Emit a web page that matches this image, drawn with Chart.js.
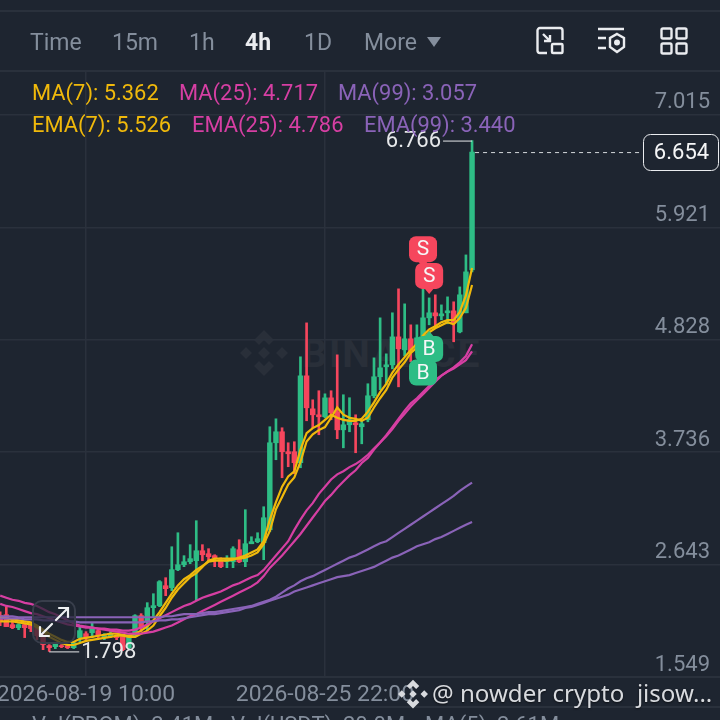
<!DOCTYPE html>
<html>
<head>
<meta charset="utf-8">
<script src="https://cdn.jsdelivr.net/npm/chart.js@4/dist/chart.umd.min.js"></script>
<style>
  html, body { margin: 0; padding: 0; background: #1e2530; width: 720px; height: 720px; overflow: hidden; }
  #stage { position: relative; width: 720px; height: 720px; font-family: Roboto, sans-serif; overflow: hidden; }
  #chart { position: absolute; left: 0; top: 0; z-index: 2; }
  .rule { position: absolute; left: 0; width: 720px; height: 2px; background: #2a313c; z-index: 1; }
  .tab { position: absolute; top: 29px; font-size: 23px; line-height: 28px; color: #848e9c; z-index: 3; }
  .tab.on { color: #eaecef; font-weight: 700; }
  .leg { position: absolute; font-size: 21.9px; line-height: 26px; white-space: nowrap; z-index: 3; }
  .yel { color: #f0b90b; } .pink { color: #d63fa3; } .pur { color: #8a63b8; }
  #mark { position: absolute; left: 302px; top: 331px; font: 700 39px Roboto, sans-serif; letter-spacing: 2px; color: #292f39; z-index: 1; }
  #markLogo { position: absolute; left: 238px; top: 329px; z-index: 1; }
  #expand { position: absolute; left: 32px; top: 600px; width: 44px; height: 44px; box-sizing: border-box; border: 2px solid #383e4b; border-radius: 10px; background: rgba(30,37,48,0.72); z-index: 4; }
  #credit { position: absolute; left: 432px; top: 677px; font: 24.1px "Noto Sans", sans-serif; line-height: 32px; color: #d8dade; white-space: pre; z-index: 5; text-shadow: 0 1px 2px rgba(0,0,0,.6); }
  #creditLogo { position: absolute; left: 398px; top: 679px; z-index: 5; }
  .vol { position: absolute; top: 712px; font-size: 22px; line-height: 26px; color: #848e9c; white-space: pre; z-index: 3; }
  .icon { position: absolute; top: 26px; z-index: 3; }
</style>
</head>
<body>
<div id="stage">
  <div class="rule" style="top:10px"></div>
  <div class="rule" style="top:70px"></div>
  <div class="rule" style="top:706px"></div>

  <div class="tab" style="left:30px">Time</div>
  <div class="tab" style="left:112px">15m</div>
  <div class="tab" style="left:189px">1h</div>
  <div class="tab on" style="left:245px">4h</div>
  <div class="tab" style="left:304px">1D</div>
  <div class="tab" style="left:364px">More</div>
  <svg class="icon" style="left:426px;top:36px" width="16" height="12"><path d="M1 1 H15 L8 11 Z" fill="#848e9c"/></svg>

  <svg class="icon" style="left:535px" width="30" height="30" fill="none" stroke="#eaecef" stroke-width="2.4">
    <path d="M12 27 H5 a2.5 2.5 0 0 1 -2.5 -2.5 V4.5 A2.5 2.5 0 0 1 5 2 H25 a2.5 2.5 0 0 1 2.5 2.5 V14"/>
    <rect x="17" y="18" width="10.5" height="9" rx="1"/>
    <path d="M8 8 L15 15 M15 9 V15 H9"/>
  </svg>
  <svg class="icon" style="left:596px" width="32" height="30" fill="none" stroke="#eaecef" stroke-width="2.4">
    <path d="M2 3 H28 M2 12 H10 M2 22 H10"/>
    <path d="M21 8 L28 12 V21 L21 26 L14 21 V12 Z"/>
    <circle cx="21" cy="16.5" r="1.8" fill="#eaecef"/>
  </svg>
  <svg class="icon" style="left:659px" width="30" height="30" fill="none" stroke="#eaecef" stroke-width="2.4">
    <rect x="2.5" y="2.5" width="10" height="10" rx="1.5"/><rect x="17.5" y="2.5" width="10" height="10" rx="1.5"/>
    <rect x="2.5" y="17.5" width="10" height="10" rx="1.5"/><rect x="17.5" y="17.5" width="10" height="10" rx="1.5"/>
  </svg>

  <div class="leg yel" style="left:32px;top:80px">MA(7): 5.362</div>
  <div class="leg pink" style="left:179px;top:80px">MA(25): 4.717</div>
  <div class="leg pur" style="left:338px;top:80px">MA(99): 3.057</div>
  <div class="leg yel" style="left:32px;top:112px">EMA(7): 5.526</div>
  <div class="leg pink" style="left:192px;top:112px">EMA(25): 4.786</div>
  <div class="leg pur" style="left:364px;top:112px">EMA(99): 3.440</div>

  <svg id="markLogo" style="left:240px" width="48" height="48" viewBox="0 0 48 48" fill="#292f39">
    <path d="M24 1 L34 11 L29 16 L24 11 L19 16 L14 11 Z M24 47 L14 37 L19 32 L24 37 L29 32 L34 37 Z M6 18 L12 24 L6 30 L0 24 Z M42 18 L48 24 L42 30 L36 24 Z M24 18 L30 24 L24 30 L18 24 Z"/>
  </svg>
  <div id="mark">BINANCE</div>

  <canvas id="chart" width="720" height="720"></canvas>

  <div id="expand">
    <svg width="40" height="40" fill="none" stroke="#eef0f2" stroke-width="2.2" stroke-linecap="round">
      <path d="M22 18 L33 7 M25 6 H34 V15"/>
      <path d="M18 22 L7 33 M6 25 V34 H15"/>
    </svg>
  </div>

  <svg id="creditLogo" width="30" height="30" viewBox="0 0 48 48" fill="#d8dade">
    <path d="M24 1 L34 11 L29 16 L24 11 L19 16 L14 11 Z M24 47 L14 37 L19 32 L24 37 L29 32 L34 37 Z M6 18 L12 24 L6 30 L0 24 Z M42 18 L48 24 L42 30 L36 24 Z M24 18 L30 24 L24 30 L18 24 Z"/>
  </svg>
  <div id="credit">@ nowder crypto  jisow...</div>
  <div class="vol" style="left:32px">Vol(PROM): 2.41M</div>
  <div class="vol" style="left:231px">Vol(USDT): 20.0M</div>
  <div class="vol yel" style="left:425px">MA(5): 2.61M</div>
</div>

<script>
// candle offset from 2026-08-19 10:00, one step = 4h
const firstCandle = -14;

const opens = [
  2.146, 2.155, 2.058, 2.029, 2.058, 2.058, 2.029, 1.951, 1.854, 1.844, 1.854, 1.854, 1.834, 1.932,
  1.970, 1.980, 2.000, 1.932, 1.941, 1.951, 1.941, 1.834, 1.941, 2.146,
  2.087, 2.223, 2.243, 2.437, 2.418, 2.593, 2.641, 2.670, 2.680, 2.777,
  2.748, 2.729, 2.690, 2.670, 2.670, 2.787, 2.670, 2.845, 2.865, 2.855,
  2.981, 3.827, 3.934, 3.740, 3.740, 3.633, 4.478, 4.157, 4.099, 4.080,
  4.264, 4.128, 3.953, 4.002, 4.021, 3.983, 4.051, 4.284, 4.469, 4.566,
  4.585, 4.857, 4.731, 4.838, 4.731, 4.867, 5.042, 5.091, 5.061, 5.091,
  5.110, 4.906, 5.091, 5.509
];
const highs = [
  2.184, 2.233, 2.107, 2.068, 2.077, 2.068, 2.039, 1.971, 1.864, 1.883, 1.864, 1.864, 1.893, 2.039,
  1.990, 2.077, 2.019, 1.971, 1.990, 1.961, 1.951, 1.961, 2.155, 2.165,
  2.272, 2.359, 2.486, 2.515, 2.816, 2.952, 2.729, 2.836, 3.069, 2.836,
  2.797, 2.738, 2.709, 2.729, 2.816, 2.884, 3.176, 2.913, 2.952, 3.205,
  3.983, 4.060, 3.973, 3.827, 3.837, 4.663, 4.993, 4.245, 4.333, 4.303,
  4.333, 4.682, 4.294, 4.265, 4.099, 4.041, 4.401, 4.653, 5.042, 4.692,
  5.091, 5.324, 5.178, 4.974, 4.974, 5.334, 5.236, 5.266, 5.168, 5.246,
  5.198, 5.343, 5.654, 6.766
];
const lows = [
  2.048, 2.039, 2.019, 2.009, 1.932, 1.990, 1.912, 1.815, 1.798, 1.825, 1.834, 1.825, 1.825, 1.893,
  1.893, 1.932, 1.932, 1.912, 1.932, 1.912, 1.805, 1.825, 1.932, 1.990,
  2.009, 2.136, 2.233, 2.340, 2.389, 2.583, 2.622, 2.651, 2.301, 2.680,
  2.680, 2.622, 2.612, 2.612, 2.612, 2.661, 2.622, 2.845, 2.855, 2.690,
  2.962, 3.662, 3.487, 3.594, 3.526, 3.584, 4.041, 3.973, 3.905, 4.070,
  4.051, 3.866, 3.778, 3.934, 3.730, 3.817, 4.031, 4.264, 4.342, 4.391,
  4.546, 4.371, 4.673, 4.614, 4.702, 4.857, 4.974, 4.955, 5.023, 4.984,
  4.809, 4.896, 5.091, 5.489
];
const closes = [
  2.087, 2.039, 2.029, 2.058, 2.029, 2.019, 1.951, 1.864, 1.834, 1.873, 1.844, 1.834, 1.883, 2.000,
  1.932, 2.029, 1.951, 1.951, 1.971, 1.932, 1.815, 1.941, 2.146, 2.029,
  2.223, 2.243, 2.476, 2.408, 2.593, 2.641, 2.670, 2.700, 2.777, 2.738,
  2.719, 2.709, 2.622, 2.700, 2.797, 2.670, 2.845, 2.865, 2.894, 3.098,
  3.827, 3.934, 3.740, 3.720, 3.633, 4.478, 4.167, 4.099, 4.080, 4.264,
  4.119, 3.953, 4.002, 4.051, 4.002, 4.012, 4.284, 4.469, 4.556, 4.585,
  4.857, 4.741, 4.838, 4.712, 4.848, 5.042, 5.091, 5.061, 5.081, 5.110,
  4.993, 5.266, 5.489, 6.654
];

const ma7 = [
  2.09, 2.09, 2.09, 2.08, 2.07, 2.06, 2.03, 1.99, 1.94, 1.91, 1.88, 1.86, 1.86, 1.88,
  1.90, 1.91, 1.92, 1.93, 1.94, 1.95, 1.95, 1.94, 1.94, 1.97,
  2.00, 2.05, 2.14, 2.22, 2.32, 2.40, 2.46, 2.52, 2.56, 2.62,
  2.68, 2.70, 2.70, 2.70, 2.70, 2.70, 2.71, 2.73, 2.76, 2.84,
  2.97, 3.18, 3.30, 3.42, 3.49, 3.64, 3.84, 3.91, 3.95, 3.98,
  4.07, 4.17, 4.10, 4.07, 4.06, 4.04, 4.07, 4.17, 4.26, 4.34,
  4.46, 4.54, 4.61, 4.70, 4.75, 4.83, 4.90, 4.94, 4.97, 5.00,
  4.98, 5.04, 5.14, 5.362
];
const ema7 = [
  2.13, 2.12, 2.11, 2.10, 2.09, 2.08, 2.05, 2.01, 1.97, 1.94, 1.91, 1.89, 1.89, 1.92,
  1.93, 1.94, 1.95, 1.96, 1.97, 1.97, 1.96, 1.95, 1.97, 2.00,
  2.04, 2.10, 2.18, 2.27, 2.36, 2.44, 2.50, 2.54, 2.59, 2.63,
  2.67, 2.68, 2.68, 2.68, 2.69, 2.71, 2.73, 2.76, 2.79, 2.87,
  3.08, 3.25, 3.40, 3.50, 3.55, 3.76, 3.92, 3.97, 4.00, 4.05,
  4.10, 4.07, 4.05, 4.04, 4.04, 4.06, 4.13, 4.22, 4.32, 4.40,
  4.51, 4.59, 4.66, 4.73, 4.79, 4.87, 4.93, 4.96, 5.00, 5.02,
  5.02, 5.10, 5.26, 5.526
];
const ma25 = [
  2.34, 2.32, 2.30, 2.29, 2.27, 2.26, 2.24, 2.21, 2.18, 2.16, 2.13, 2.10, 2.07, 2.05,
  2.04, 2.03, 2.02, 2.01, 2.00, 1.99, 1.98, 1.97, 1.97, 1.97,
  1.98, 1.99, 2.01, 2.03, 2.05, 2.08, 2.11, 2.14, 2.16, 2.19,
  2.22, 2.25, 2.28, 2.31, 2.34, 2.37, 2.40, 2.43, 2.47, 2.53,
  2.61, 2.67, 2.73, 2.80, 2.87, 2.94, 3.02, 3.10, 3.18, 3.26,
  3.32, 3.39, 3.45, 3.51, 3.56, 3.63, 3.68, 3.76, 3.83, 3.89,
  3.96, 4.04, 4.11, 4.18, 4.24, 4.30, 4.36, 4.42, 4.48, 4.52,
  4.55, 4.59, 4.63, 4.717
];
const ema25 = [
  2.26, 2.24, 2.23, 2.21, 2.19, 2.17, 2.16, 2.14, 2.12, 2.10, 2.08, 2.06, 2.05, 2.04,
  2.03, 2.03, 2.02, 2.02, 2.01, 2.01, 2.00, 2.00, 2.01, 2.03,
  2.06, 2.09, 2.12, 2.15, 2.18, 2.21, 2.24, 2.26, 2.29, 2.32,
  2.34, 2.36, 2.38, 2.41, 2.44, 2.46, 2.49, 2.52, 2.54, 2.59,
  2.66, 2.73, 2.80, 2.87, 2.98, 3.08, 3.17, 3.24, 3.33, 3.40,
  3.47, 3.52, 3.55, 3.59, 3.62, 3.66, 3.71, 3.77, 3.83, 3.90,
  3.98, 4.06, 4.14, 4.21, 4.26, 4.32, 4.38, 4.44, 4.48, 4.52,
  4.56, 4.61, 4.67, 4.786
];
const ma99 = [
  2.12, 2.12, 2.12, 2.12, 2.11, 2.11, 2.11, 2.10, 2.10, 2.10, 2.09, 2.09, 2.09, 2.08,
  2.08, 2.08, 2.08, 2.08, 2.08, 2.08, 2.08, 2.08, 2.08, 2.08,
  2.09, 2.09, 2.10, 2.10, 2.11, 2.11, 2.12, 2.13, 2.14, 2.15,
  2.16, 2.16, 2.17, 2.18, 2.19, 2.20, 2.22, 2.23, 2.25, 2.27,
  2.29, 2.31, 2.33, 2.35, 2.38, 2.40, 2.42, 2.44, 2.46, 2.48,
  2.50, 2.52, 2.53, 2.54, 2.56, 2.58, 2.60, 2.62, 2.65, 2.68,
  2.71, 2.73, 2.76, 2.79, 2.82, 2.84, 2.86, 2.89, 2.91, 2.94,
  2.97, 3.00, 3.03, 3.057
];
const ema99 = [
  2.14, 2.14, 2.14, 2.13, 2.13, 2.13, 2.13, 2.13, 2.13, 2.13, 2.13, 2.13, 2.13, 2.13,
  2.13, 2.13, 2.13, 2.13, 2.13, 2.13, 2.13, 2.13, 2.13, 2.13,
  2.13, 2.13, 2.13, 2.14, 2.14, 2.15, 2.16, 2.16, 2.16, 2.17,
  2.18, 2.18, 2.19, 2.20, 2.21, 2.22, 2.23, 2.24, 2.26, 2.28,
  2.30, 2.33, 2.37, 2.41, 2.44, 2.48, 2.51, 2.53, 2.56, 2.59,
  2.62, 2.65, 2.68, 2.71, 2.73, 2.76, 2.79, 2.82, 2.85, 2.87,
  2.91, 2.95, 2.99, 3.03, 3.07, 3.11, 3.15, 3.19, 3.23, 3.27,
  3.31, 3.36, 3.40, 3.440
];

const priceTicks = [1.549, 2.643, 3.736, 4.828, 5.921, 7.015];
const timeTickOffsets = [0, 39];
const timeTickLabels = ['2026-08-19 10:00', '2026-08-25 22:00'];

const lastPrice = 6.654;
const highPrice = 6.766, highOffset = 63;
const lowPrice = 1.798, lowOffset = -6;

const signalLabels = ['S', 'S', 'B', 'B'];
const signalOffsets = [55, 56, 56, 55];
const signalPrices = [5.71, 5.45, 4.74, 4.51];

const UP = '#2ebd85';
const DOWN = '#f6465d';
const TEXT = '#848e9c';

const series = (vals) => vals.map((y, i) => ({ x: firstCandle + i, y }));
const candleColor = opens.map((o, i) => (closes[i] >= o ? UP : DOWN));

function lineSet(label, vals, color) {
    return {
        type: 'line', label, data: series(vals), borderColor: color, borderWidth: 2.2,
        pointRadius: 0, tension: 0, order: 1
    };
}

// price labels, dashed last-price line and the buy / sell tags
const overlayPlugin = {
    id: 'overlay',
    afterDatasetsDraw(chart) {
        const { ctx, scales: { x, y } } = chart;
        ctx.save();
        ctx.font = '22px Roboto, sans-serif';
        ctx.textBaseline = 'middle';

        // last price
        const lastY = y.getPixelForValue(lastPrice);
        ctx.strokeStyle = '#d5d8dc';
        ctx.lineWidth = 1;
        ctx.setLineDash([4, 4]);
        ctx.beginPath();
        ctx.moveTo(x.getPixelForValue(highOffset) + 3, lastY + 0.5);
        ctx.lineTo(644, lastY + 0.5);
        ctx.stroke();
        ctx.setLineDash([]);
        ctx.fillStyle = '#1e2530';
        ctx.strokeStyle = '#eaecef';
        ctx.beginPath();
        ctx.roundRect(643.5, 134.5, 75, 36, 7);
        ctx.fill();
        ctx.stroke();
        ctx.fillStyle = '#f5f6f7';
        ctx.textAlign = 'center';
        ctx.fillText(lastPrice.toFixed(3), 681.5, lastY + 1);

        // high label
        const hx = x.getPixelForValue(highOffset);
        const hy = y.getPixelForValue(highPrice);
        ctx.strokeStyle = '#e6e8ea';
        ctx.beginPath();
        ctx.moveTo(hx, hy + 0.5);
        ctx.lineTo(hx - 29, hy + 0.5);
        ctx.stroke();
        ctx.textAlign = 'right';
        ctx.fillStyle = '#e6e8ea';
        ctx.fillText(highPrice.toFixed(3), hx - 31, hy + 1);

        // low label
        const lx = x.getPixelForValue(lowOffset);
        const ly = y.getPixelForValue(lowPrice);
        ctx.beginPath();
        ctx.moveTo(lx, ly + 0.5);
        ctx.lineTo(lx + 30, ly + 0.5);
        ctx.stroke();
        ctx.textAlign = 'left';
        ctx.fillText(lowPrice.toFixed(3), lx + 32, ly + 1);

        // signals
        ctx.font = '21px Roboto, sans-serif';
        ctx.textAlign = 'center';
        signalLabels.forEach((s, i) => {
            const sx = x.getPixelForValue(signalOffsets[i]);
            const sy = y.getPixelForValue(signalPrices[i]);
            ctx.fillStyle = s === 'S' ? DOWN : UP;
            ctx.beginPath();
            ctx.roundRect(sx - 14, sy - 13, 28, 26, 7);
            ctx.fill();
            ctx.beginPath();
            if (s === 'S') {
                ctx.moveTo(sx - 5, sy + 12); ctx.lineTo(sx + 5, sy + 12); ctx.lineTo(sx, sy + 18);
            } else {
                ctx.moveTo(sx - 5, sy - 12); ctx.lineTo(sx + 5, sy - 12); ctx.lineTo(sx, sy - 18);
            }
            ctx.fill();
            ctx.fillStyle = '#f5f6f7';
            ctx.fillText(s, sx, sy + 1);
        });
        ctx.restore();
    }
};

new Chart(document.getElementById('chart').getContext('2d'), {
    type: 'bar',
    data: {
        datasets: [
            lineSet('MA(99)', ma99, '#8a63b8'),
            lineSet('EMA(99)', ema99, '#8a63b8'),
            lineSet('MA(25)', ma25, '#d63fa3'),
            lineSet('EMA(25)', ema25, '#d63fa3'),
            lineSet('MA(7)', ma7, '#f0b90b'),
            lineSet('EMA(7)', ema7, '#f0b90b'),
            {
                label: 'body', order: 2, grouped: false, barThickness: 4.8,
                data: opens.map((o, i) => ({ x: firstCandle + i, y: [o, closes[i]] })),
                backgroundColor: candleColor
            },
            {
                label: 'wick', order: 3, grouped: false, barThickness: 2,
                data: lows.map((l, i) => ({ x: firstCandle + i, y: [l, highs[i]] })),
                backgroundColor: candleColor
            }
        ]
    },
    options: {
        responsive: false,
        animation: false,
        layout: { padding: { top: 71, bottom: 13, left: 0, right: 0 } },
        plugins: { legend: { display: false }, tooltip: { enabled: false } },
        scales: {
            x: {
                type: 'linear',
                offset: false,
                min: -14.03,
                max: 103.46,
                grid: { color: '#2a313c', lineWidth: 1.5, drawTicks: false, offset: false },
                border: { color: '#2a313c', width: 2 },
                afterBuildTicks(scale) { scale.ticks = timeTickOffsets.map(value => ({ value })); },
                afterFit(scale) { scale.height = 30; scale.paddingLeft = 0; scale.paddingRight = 0; },
                ticks: {
                    autoSkip: false, maxRotation: 0, padding: 5,
                    color: TEXT, font: { family: 'Roboto', size: 22.9 },
                    callback: (v) => timeTickLabels[timeTickOffsets.indexOf(v)]
                }
            },
            y: {
                position: 'right',
                min: 1.549,
                max: 7.4426,
                grid: { color: '#2a313c', lineWidth: 1.5, drawTicks: false },
                border: { display: false },
                afterBuildTicks(scale) { scale.ticks = priceTicks.map(value => ({ value })); },
                afterFit(scale) { scale.width = 0; scale.paddingTop = 0; scale.paddingBottom = 0; },
                ticks: {
                    mirror: true, padding: -10, labelOffset: -12,
                    color: TEXT, font: { family: 'Roboto', size: 22 },
                    callback: (v) => v.toFixed(3)
                }
            }
        }
    },
    plugins: [overlayPlugin]
});
</script>
</body>
</html>
